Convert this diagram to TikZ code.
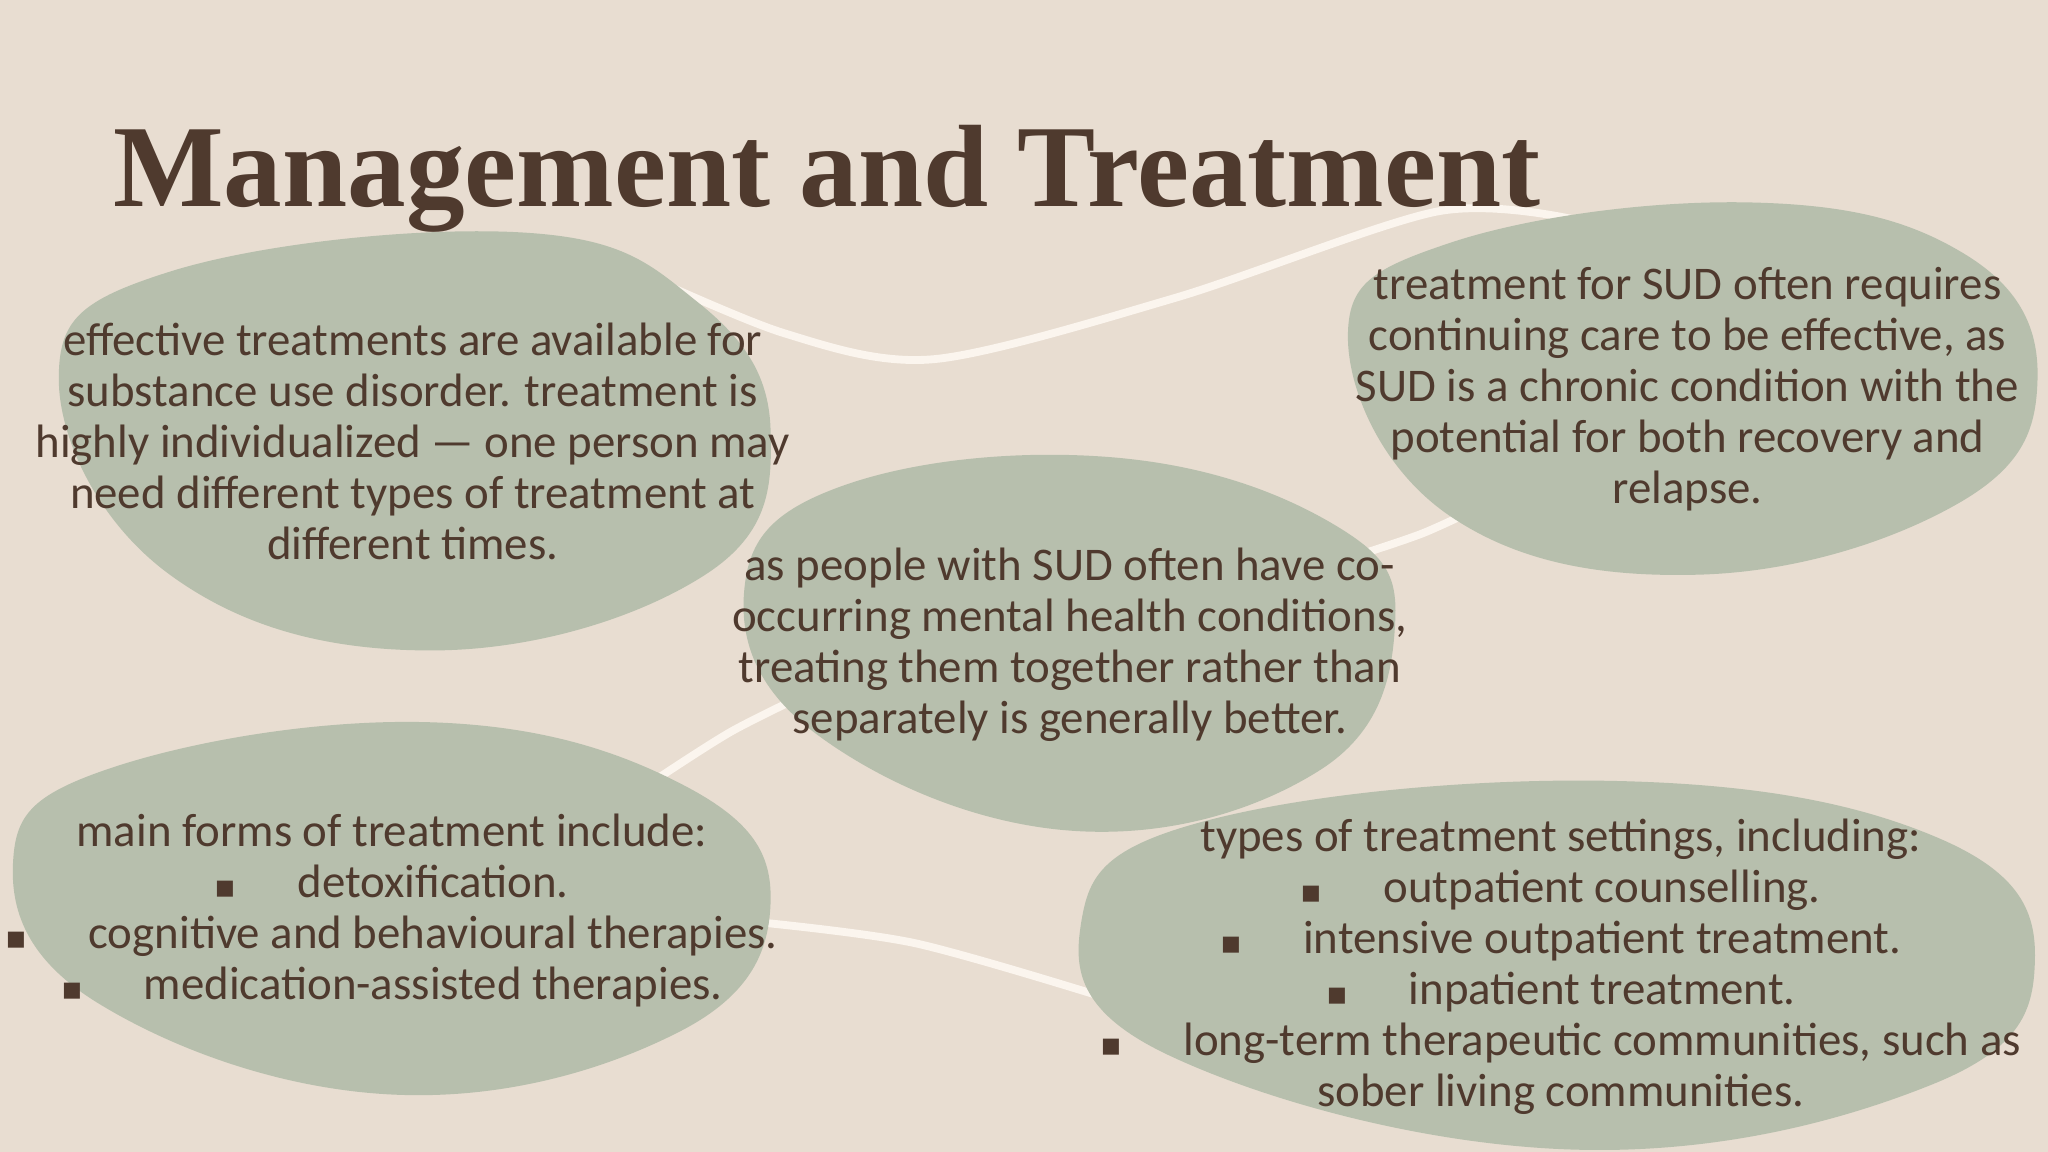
\documentclass[tikz,border=0pt]{standalone}
\usepackage{fontspec}
\setmainfont{Carlito}
\newfontfamily\titlefont{Liberation Serif}
\newfontfamily\bulfont{DejaVu Sans}
\definecolor{bg}{HTML}{E8DDD1}
\definecolor{blob}{HTML}{B7BFAD}
\definecolor{ink}{HTML}{4F3A2E}
\definecolor{wave}{HTML}{FBF5EE}
\newcommand{\bul}{{\bulfont\fontsize{7}{7}\selectfont ▪}\hspace{1.3em}}
\begin{document}
\begin{tikzpicture}[x=0.01cm,y=-0.01cm,
  blobsty/.style={fill=blob,draw=none},
  wavesty/.style={draw=wave,line width=0.06cm,line cap=round},
  txt/.style={text=ink,align=center,font=\fontsize{10.2}{11.1}\selectfont,inner sep=0pt}]
\fill[bg] (0,0) rectangle (1568,882);
\useasboundingbox (0,0) rectangle (1568,882);
% wave lines
\draw[wavesty] plot[smooth] coordinates {(470,200)(600,255)(715,275)(900,228)(1100,162)(1205,168)};
\draw[wavesty] plot[smooth] coordinates {(1040,425)(1090,408)(1140,385)};
\draw[wavesty] plot[smooth] coordinates {(620,530)(560,560)(505,595)};
\draw[wavesty] plot[smooth] coordinates {(570,705)(700,722)(850,765)};
% blobs
\path[blobsty] plot[smooth cycle,tension=0.7] coordinates {(45,290)(130,208)(400,178)(535,232)(590,330)(540,440)(330,498)(130,440)};
\path[blobsty] plot[smooth cycle,tension=0.7] coordinates {(1032,258)(1110,186)(1340,155)(1505,195)(1560,290)(1500,385)(1300,440)(1110,395)};
\path[blobsty] plot[smooth cycle,tension=0.7] coordinates {(570,450)(645,372)(850,350)(1022,402)(1068,480)(1010,590)(820,636)(625,562)};
\path[blobsty] plot[smooth cycle,tension=0.7] coordinates {(10,660)(85,588)(330,553)(525,602)(590,690)(520,790)(300,838)(75,768)};
\path[blobsty] plot[smooth cycle,tension=0.7] coordinates {(828,705)(925,628)(1240,598)(1485,642)(1558,735)(1480,830)(1200,880)(895,808)};
% title
\node[anchor=base west,text=ink,inner sep=0pt,font=\titlefont\bfseries\fontsize{25.5}{28}\selectfont] (title) at (86,158) {Management and Treatment};
% texts
\node[txt] (t1) at (316,338) {effective treatments are available for\\substance use disorder. treatment is\\highly individualized — one person may\\need different types of treatment at\\different times.};
\node[txt] (t2) at (1292,298) {treatment for SUD often requires\\continuing care to be effective, as\\SUD is a chronic condition with the\\potential for both recovery and\\relapse.};
\node[txt] (t3) at (819,494) {as people with SUD often have co-\\occurring mental health conditions,\\treating them together rather than\\separately is generally better.};
\node[txt] (t4) at (300,697) {main forms of treatment include:\\\bul detoxification.\\\bul cognitive and behavioural therapies.\\\bul medication-assisted therapies.};
\node[txt] (t5) at (1195,740) {types of treatment settings, including:\\\bul outpatient counselling.\\\bul intensive outpatient treatment.\\\bul inpatient treatment.\\\bul long-term therapeutic communities, such as\\sober living communities.};
\end{tikzpicture}
\end{document}
